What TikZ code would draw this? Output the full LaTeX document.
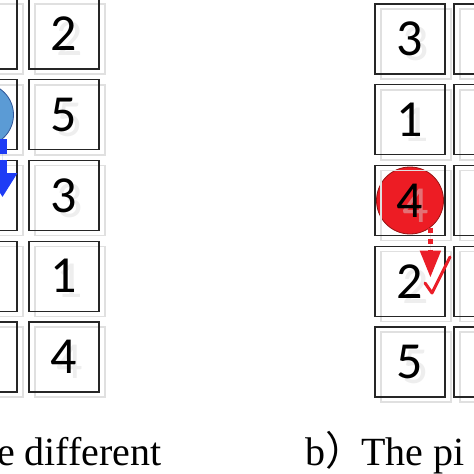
\documentclass[tikz,border=0pt]{standalone}
\usepackage{fontspec}
\newfontfamily\digfont{Carlito}
\newfontfamily\capfont{Liberation Serif}
\newfontfamily\cjk{Noto Sans CJK SC}
\usetikzlibrary{arrows.meta,positioning,shadows,backgrounds}
\definecolor{ballblue}{RGB}{91,155,213}
\definecolor{ballblueline}{RGB}{47,85,151}
\definecolor{arrowblue}{RGB}{30,60,245}
\definecolor{ballred}{RGB}{237,28,36}
\definecolor{ballredline}{RGB}{150,20,20}
\definecolor{markred}{RGB}{235,30,40}

\begin{document}
\begin{tikzpicture}[
  x=1pt, y=-1pt,
  node distance=10.75pt and 12pt,
  cell/.style={
    rectangle,
    draw=black!85,
    line width=1.3pt,
    minimum width=70pt,
    minimum height=70pt,
    inner sep=0pt,
    outer sep=0pt,
    drop shadow={fill=none, draw=black!12, line width=1.5pt, opacity=1,
      shadow xshift=6pt, shadow yshift=-5pt},
    label={[digit, text=black!15, text opacity=0.45, xshift=6pt, yshift=-5pt]center:#1},
    label={[digit]center:#1}
  },
  cell/.default={},
  digit/.style={font=\digfont\fontsize{52}{60}\selectfont, inner sep=0pt, outer sep=0pt},
  ball/.style={circle, fill=#1, draw=#1line, line width=0.8pt, inner sep=0pt},
  caption/.style={font=\capfont\fontsize{40}{48}\selectfont, inner sep=0pt}
]
  \useasboundingbox (0,0) rectangle (474,474);

  % a) left panel
  \node[cell] (l1) at (-18,34) {};
  \node[cell, below=of l1] (l2) {};
  \node[cell, below=of l2] (l3) {};
  \node[cell, below=of l3] (l4) {};
  \node[cell, below=of l4] (l5) {};
  \node[cell=2, right=of l1] (m1) {};
  \node[cell=5, right=of l2] (m2) {};
  \node[cell=3, right=of l3] (m3) {};
  \node[cell=1, right=of l4] (m4) {};
  \node[cell=4, right=of l5] (m5) {};

  % b) right panel
  \node[cell=3] (r1) at (410,39) {};
  \node[cell=1, below=of r1] (r2) {};
  \node[cell=4, below=of r2] (r3) {};
  \node[cell=2, below=of r3] (r4) {};
  \node[cell=5, below=of r4] (r5) {};
  \node[cell, right=9pt of r1] (s1) {};
  \node[cell, below=of s1] (s2) {};
  \node[cell, below=of s2] (s3) {};
  \node[cell, below=of s3] (s4) {};
  \node[cell, below=of s4] (s5) {};

  \begin{pgfonlayer}{background}
    \node[ball=ballblue, minimum size=63pt] (ballL) at (l2) {};
    \node[ball=ballred, minimum size=67pt] (ballR) at (r3) {};
  \end{pgfonlayer}

  \coordinate[below=58pt of ballL.-50] (tipL);
  \coordinate[below=50pt of ballR.-53] (tipR);
  \draw[-{Triangle[width=28pt,length=24pt]}, draw=arrowblue, fill=arrowblue,
    line width=8pt, dash pattern=on 15pt off 6pt] (ballL.-50) -- (tipL);
  \draw[-{Triangle[width=20pt,length=27pt]}, draw=markred, fill=markred,
    line width=5pt, dash pattern=on 5pt off 6pt] (ballR.-53) -- (tipR);

  % check mark
  \draw[markred, line width=3pt, line cap=round, line join=round]
    (425,283) -- (432,293) -- (450,257);

  \node[caption, anchor=base east] (capa) at (162,465) {e different};
  \node[caption, anchor=base west] (capb) at (305,465) {b{\cjk ）}\hspace{-4pt}The pi};
\end{tikzpicture}
\end{document}
